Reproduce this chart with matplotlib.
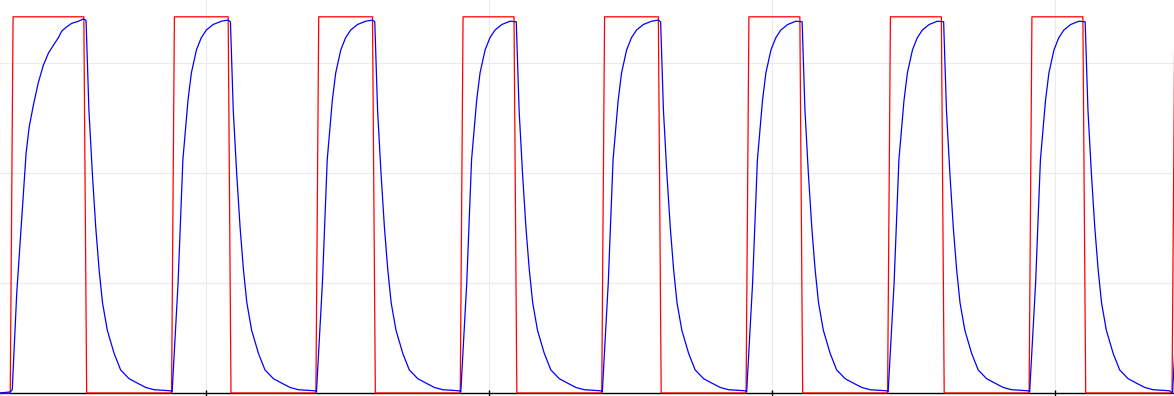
import matplotlib
matplotlib.use("Agg")
import matplotlib.pyplot as plt

# edge times of the square wave (seconds)
rise_times = [3.1, 8.8, 13.9, 19.0, 24.0, 29.1, 34.1, 39.1, 44.15]
fall_times = [5.7, 10.8, 15.9, 20.9, 26.0, 31.0, 36.0, 41.0]
signal_high = 3.42

# response during the first pulse (offset from rise, value)
first_rise_dt = [0.0, 0.07, 0.23, 0.41, 0.56, 0.67, 0.82, 0.99, 1.17,
                 1.35, 1.52, 1.70, 1.82, 2.0, 2.17, 2.41, 2.58, 2.67]
first_rise_v = [0.01, 0.03, 0.91, 1.60, 2.18, 2.42, 2.62, 2.82, 2.98,
                3.09, 3.16, 3.23, 3.29, 3.33, 3.36, 3.38, 3.40, 3.39]

# response during the later pulses
rise_dt = [0.02, 0.23, 0.40, 0.58, 0.70, 0.88, 1.05, 1.23, 1.47, 1.76, 2.0]
rise_v = [0.01, 1.0, 2.12, 2.66, 2.91, 3.12, 3.23, 3.30, 3.35, 3.38, 3.39]

# decay after each falling edge (offset from fall, value)
decay_dt = [0.08, 0.18, 0.30, 0.42, 0.54, 0.66, 0.83, 1.07, 1.30,
            1.60, 1.89, 2.19, 2.48, 3.07]
decay_v = [3.375, 2.57, 2.0, 1.51, 1.12, 0.82, 0.57, 0.36, 0.21,
           0.13, 0.09, 0.05, 0.03, 0.02]

x_min, x_max = 2.738, 44.22


def square_wave():
    t = [x_min, rise_times[0]]
    v = [0, 0]
    for i, r in enumerate(rise_times):
        t.append(r + 0.1)
        v.append(signal_high)
        if i < len(fall_times):
            f = fall_times[i]
            t += [f, f + 0.1, rise_times[i + 1]]
            v += [signal_high, 0, 0]
    return t, v


def response():
    t = [x_min]
    v = [0]
    for i, f in enumerate(fall_times):
        r = rise_times[i]
        if i == 0:
            dts, vals = first_rise_dt, first_rise_v
        else:
            dts, vals = rise_dt, rise_v
        for dt, val in zip(dts, vals):
            if r + dt < f + 0.075:
                t.append(r + dt)
                v.append(val)
        for dt, val in zip(decay_dt, decay_v):
            t.append(f + dt)
            v.append(val)
    r = rise_times[-1]
    t.append(r)
    v.append(0.0)
    for dt, val in zip(rise_dt[:3], rise_v[:3]):
        t.append(r + dt)
        v.append(val)
    return t, v


def main():
    fig = plt.figure(figsize=(11.74, 3.96), dpi=100)
    ax = fig.add_axes([0, 3 / 396, 1, 393 / 396])

    st, sv = square_wave()
    bt, bv = response()
    ax.plot(st, sv, color='#ff0000', lw=0.9, zorder=3, clip_on=False)
    ax.plot(bt, bv, color='#0000ff', lw=0.9, zorder=4, clip_on=False)

    ax.set_xlim(x_min, x_max)
    ax.set_ylim(0, 393 / 110)
    ax.set_xticks([10, 20, 30, 40])
    ax.set_yticks([1, 2, 3])
    ax.set_xticklabels([])
    ax.set_yticklabels([])
    ax.tick_params(axis='x', direction='inout', length=5, width=1, color='black')
    ax.tick_params(axis='y', length=0)
    ax.grid(True, color='#ebebeb', lw=0.8, zorder=0)
    for side in ['left', 'top', 'right']:
        ax.spines[side].set_visible(False)
    ax.spines['bottom'].set_linewidth(1.0)
    ax.spines['bottom'].set_zorder(2)

    fig.savefig('out.png', dpi=100)


if __name__ == "__main__":
    main()
